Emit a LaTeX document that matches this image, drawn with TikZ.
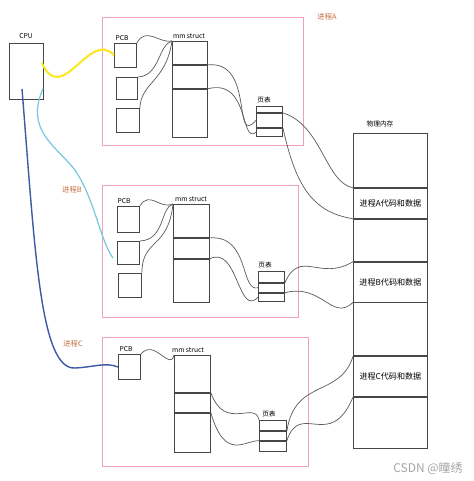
\documentclass[tikz,border=0pt]{standalone}
\usepackage{fontspec}
\setmainfont{Noto Sans CJK SC}
\usepackage{tikz}
\usetikzlibrary{positioning}
\definecolor{framepink}{RGB}{238,160,190}
\definecolor{labelbrown}{RGB}{196,110,70}
\definecolor{boxgray}{RGB}{70,70,70}
\definecolor{wiregray}{RGB}{90,90,90}
\definecolor{cpuyellow}{RGB}{250,232,40}
\definecolor{cpucyan}{RGB}{120,200,222}
\definecolor{cpublue}{RGB}{60,90,165}
\definecolor{markgray}{RGB}{165,165,165}

\begin{document}
\begin{tikzpicture}[x=0.02cm, y=-0.02cm,
    cell/.style={draw=boxgray, line width=0.5pt, inner sep=0pt},
    frame/.style={draw=framepink, line width=0.8pt, inner sep=0pt, anchor=north west},
    tag/.style={font=\fontsize{3.8}{4.5}\selectfont, inner sep=0pt},
    proc/.style={tag, text=labelbrown, font=\fontsize{4.2}{5}\selectfont},
    memtext/.style={font=\fontsize{4.6}{5.5}\selectfont},
    wire/.style={draw=wiregray, line width=0.4pt}]
    \useasboundingbox (0,0) rectangle (474,481);

    % CPU
    \node[tag] (cpuTag) at (26,36) {CPU};
    \node[cell, anchor=north west, minimum width=0.68cm, minimum height=1.12cm] (cpu) at (9,43) {};

    % process A
    \node[frame, minimum width=4.02cm, minimum height=2.56cm] (procA) at (102,17) {};
    \node[proc] (procATag) at (327,17) {进程A};
    \node[tag] (pcbATag) at (122,38) {PCB};
    \node[cell, anchor=north west, minimum width=0.44cm, minimum height=0.48cm] (pcbA1) at (114,43) {};
    \node[cell, anchor=north west, minimum width=0.42cm, minimum height=0.44cm] (pcbA2) at (116,77) {};
    \node[cell, anchor=north west, minimum width=0.46cm, minimum height=0.48cm] (pcbA3) at (116,108) {};
    \node[tag] (mmATag) at (189,36) {mm struct};
    \node[cell, anchor=north west, minimum width=0.70cm, minimum height=0.46cm] (mmA1) at (172,41) {};
    \node[cell, below=0pt of mmA1, minimum width=0.70cm, minimum height=0.46cm] (mmA2) {};
    \node[cell, below=0pt of mmA2, minimum width=0.70cm, minimum height=0.96cm] (mmA3) {};
    \node[tag] (ptATag) at (264,100) {页表};
    \node[cell, anchor=north west, minimum width=0.52cm, minimum height=0.12cm] (ptA1) at (256,106) {};
    \node[cell, below=0pt of ptA1, minimum width=0.52cm, minimum height=0.28cm] (ptA2) {};
    \node[cell, below=0pt of ptA2, minimum width=0.52cm, minimum height=0.16cm] (ptA3) {};

    % process B
    \node[frame, minimum width=3.92cm, minimum height=2.64cm] (procB) at (102,185) {};
    \node[proc] (procBTag) at (72,190) {进程B};
    \node[tag] (pcbBTag) at (124,201) {PCB};
    \node[cell, anchor=north west, minimum width=0.44cm, minimum height=0.52cm] (pcbB1) at (117,206) {};
    \node[cell, anchor=north west, minimum width=0.44cm, minimum height=0.46cm] (pcbB2) at (117,241) {};
    \node[cell, anchor=north west, minimum width=0.46cm, minimum height=0.48cm] (pcbB3) at (118,273) {};
    \node[tag] (mmBTag) at (191,199) {mm struct};
    \node[cell, anchor=north west, minimum width=0.72cm, minimum height=0.66cm] (mmB1) at (173,204) {};
    \node[cell, below=0pt of mmB1, minimum width=0.72cm, minimum height=0.40cm] (mmB2) {};
    \node[cell, below=0pt of mmB2, minimum width=0.72cm, minimum height=0.86cm] (mmB3) {};
    \node[tag] (ptBTag) at (265,265) {页表};
    \node[cell, anchor=north west, minimum width=0.52cm, minimum height=0.22cm] (ptB1) at (258,271) {};
    \node[cell, below=0pt of ptB1, minimum width=0.52cm, minimum height=0.18cm] (ptB2) {};
    \node[cell, below=0pt of ptB2, minimum width=0.52cm, minimum height=0.16cm] (ptB3) {};

    % process C
    \node[frame, minimum width=4.12cm, minimum height=2.58cm] (procC) at (102,337) {};
    \node[proc] (procCTag) at (73,344) {进程C};
    \node[tag] (pcbCTag) at (126,349) {PCB};
    \node[cell, anchor=north west, minimum width=0.44cm, minimum height=0.50cm] (pcbC) at (118,354) {};
    \node[tag] (mmCTag) at (188,350) {mm struct};
    \node[cell, anchor=north west, minimum width=0.72cm, minimum height=0.74cm] (mmC1) at (174,355) {};
    \node[cell, below=0pt of mmC1, minimum width=0.72cm, minimum height=0.38cm] (mmC2) {};
    \node[cell, below=0pt of mmC2, minimum width=0.72cm, minimum height=0.78cm] (mmC3) {};
    \node[tag] (ptCTag) at (269,414) {页表};
    \node[cell, anchor=north west, minimum width=0.54cm, minimum height=0.20cm] (ptC1) at (259,420) {};
    \node[cell, below=0pt of ptC1, minimum width=0.54cm, minimum height=0.18cm] (ptC2) {};
    \node[cell, below=0pt of ptC2, minimum width=0.54cm, minimum height=0.20cm] (ptC3) {};

    % physical memory
    \node[tag] (physTag) at (380,124) {物理内存};
    \node[cell, anchor=north west, minimum width=1.48cm, minimum height=1.08cm] (phys0) at (353,133) {};
    \node[cell, memtext, below=0pt of phys0, minimum width=1.48cm, minimum height=0.60cm] (physA) {进程A代码和数据};
    \node[cell, below=0pt of physA, minimum width=1.48cm, minimum height=0.84cm] (phys1) {};
    \node[cell, memtext, below=0pt of phys1, minimum width=1.48cm, minimum height=0.80cm] (physB) {进程B代码和数据};
    \node[cell, below=0pt of physB, minimum width=1.48cm, minimum height=1.06cm] (phys2) {};
    \node[cell, memtext, below=0pt of phys2, minimum width=1.48cm, minimum height=0.80cm] (physC) {进程C代码和数据};
    \node[cell, below=0pt of physC, minimum width=1.48cm, minimum height=1.02cm] (phys3) {};

    \node[text=markgray, font=\fontsize{6.8}{8}\selectfont] (mark) at (428,468) {CSDN @瞳绣};

    % CPU links
    \coordinate (cyanTail) at (113,258);
    \draw[cpuyellow, line width=1.2pt] ([shift={(-2,-37)}]cpu.south east) .. controls (62,108) and (90,28) .. (pcbA1.west);
    \draw[cpucyan, line width=0.7pt] ([shift={(-1,-11)}]cpu.south east) .. controls (25,130) and (55,145) .. (75,170) .. controls (95,200) and (100,240) .. (cyanTail);
    \draw[cpublue, line width=0.8pt] ([shift={(13,-11)}]cpu.south west) .. controls (35,250) and (40,370) .. (75,368) .. controls (95,367) and (105,362) .. (pcbC.west);

    % process A links
    \draw[wire] (pcbA1.north east) .. controls (146,26) and (160,44) .. (mmA1.north west);
    \draw[wire] (pcbA2.north east) .. controls (160,76) and (158,45) .. (mmA1.north west);
    \draw[wire] (pcbA3.north east) .. controls (141,82) and (166,82) .. (mmA1.north west);
    \draw[wire] (mmA2.north east) .. controls (255,60) and (232,148) .. (ptA2.west);
    \draw[wire] (mmA3.north east) .. controls (250,78) and (240,145) .. (ptA3.west);
    \draw[wire] (ptA2.north east) .. controls (322,125) and (325,182) .. (physA.north west);
    \draw[wire] (ptA3.north east) .. controls (295,182) and (310,212) .. (physA.south west);

    % process B links
    \draw[wire] (pcbB1.north east) .. controls (150,190) and (160,210) .. (mmB1.north west);
    \draw[wire] (pcbB2.north east) .. controls (165,240) and (160,208) .. (mmB1.north west);
    \draw[wire] (pcbB3.north east) .. controls (142,238) and (168,250) .. (mmB1.north west);
    \draw[wire] (mmB2.north east) .. controls (250,235) and (240,292) .. (ptB2.west);
    \draw[wire] (mmB3.north east) .. controls (238,245) and (238,318) .. (ptB3.west);
    \draw[wire] (ptB2.north east) .. controls (300,248) and (320,282) .. (physB.north west);
    \draw[wire] (ptB3.north east) .. controls (322,283) and (332,322) .. (physB.south west);

    % process C links
    \draw[wire] (pcbC.north east) .. controls (155,338) and (170,372) .. (mmC1.north west);
    \draw[wire] (mmC2.north east) .. controls (225,432) and (255,400) .. (ptC1.north west);
    \draw[wire] (mmC3.north east) .. controls (225,462) and (245,440) .. (ptC3.north west);
    \draw[wire] (ptC2.north east) .. controls (295,378) and (340,398) .. (physC.north west);
    \draw[wire] (ptC3.north east) .. controls (300,400) and (330,452) .. (physC.south west);
\end{tikzpicture}
\end{document}
